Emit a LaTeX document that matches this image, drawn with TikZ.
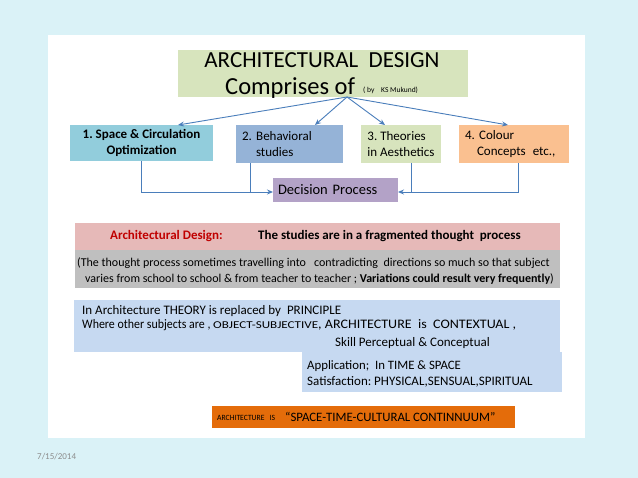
\documentclass[tikz,border=0pt]{standalone}
\usepackage{fontspec}
\setmainfont{Carlito}
\usetikzlibrary{arrows.meta,calc}
\definecolor{bgc}{HTML}{DAF2F7}
\definecolor{titlec}{HTML}{D7E4BD}
\definecolor{bonec}{HTML}{92CDDC}
\definecolor{btwoc}{HTML}{95B3D7}
\definecolor{bthreec}{HTML}{D7E4BD}
\definecolor{bfourc}{HTML}{FAC090}
\definecolor{dpc}{HTML}{B3A2C7}
\definecolor{redc}{HTML}{E6B9B8}
\definecolor{grayc}{HTML}{BFBFBF}
\definecolor{bluec}{HTML}{C6D9F1}
\definecolor{orc}{HTML}{E46C0A}
\definecolor{arrc}{HTML}{4A7EBB}
\definecolor{redt}{HTML}{C00000}
\definecolor{datec}{HTML}{8C8C8C}
\begin{document}
\frenchspacing
\begin{tikzpicture}[x=1pt,y=-1pt,
  box/.style={draw=none, inner sep=0pt, outer sep=0pt},
  arr/.style={draw=arrc, line width=0.9pt, -{Stealth[length=6pt,width=5pt]}},
  lin/.style={draw=arrc, line width=0.9pt},
  txt/.style={inner sep=0pt, anchor=base west},
  fa/.style={font=\fontsize{13}{16}\selectfont},
  fab/.style={font=\fontsize{13}{16}\selectfont\bfseries}
]
\fill[bgc] (0,0) rectangle (638,478);
\useasboundingbox (0,0) rectangle (638,478);
\fill[white] (48,35) rectangle (585,438);
% title
\node[box, fill=titlec, minimum width=290pt, minimum height=47pt] (title) at (323,73.5) {};
\node[txt, anchor=base, font=\fontsize{23}{25}\selectfont] (t1) at (322,68) {ARCHITECTURAL\ \ DESIGN};
\node[txt, font=\fontsize{24.5}{26}\selectfont] (t2) at (225,95) {Comprises of};
\node[txt, font=\fontsize{7.5}{8}\selectfont] (t3) at (363,93) {( by\ \ \ \ KS Mukund)};
\coordinate (o) at (347,97);
% four boxes
\node[box, fill=bonec, minimum width=143pt, minimum height=36pt, align=center, fab] (b1) at (141.5,143) {1. Space \& Circulation\\Optimization};
\node[box, fill=btwoc, minimum height=38pt, inner xsep=6pt, text width=95pt, align=left, fa] (b2) at (289.5,144) {2. Behavioral\\\hspace*{14pt}studies};
\node[box, fill=bthreec, minimum width=80pt, minimum height=38pt, align=left, fa] (b3) at (401,144) {3. Theories\\in Aesthetics};
\node[box, fill=bfourc, minimum height=38pt, inner xsep=6pt, text width=98pt, align=left, fa] (b4) at (514,144) {4. Colour\\\hspace*{12pt}Concepts\hspace{7pt}etc.,};
\node[box, fill=dpc, minimum height=24pt, inner xsep=5pt, text width=115pt, align=left, font=\fontsize{14.5}{16}\selectfont] (dp) at (335.5,190) {Decision Process};
% arrows
\draw[arr] (o) -- ($(b1.north west)+(108,0)$);
\draw[arr] (o) -- ($(b2.north west)+(79,0)$);
\draw[arr] (o) -- ($(b3.north west)+(24,0)$);
\draw[arr] (o) -- ($(b4.north west)+(49,0)$);
\draw[arr] (b1.south) |- ($(dp.west)+(0,2)$);
\draw[lin] ($(b2.south west)+(14,0)$) -- ++(0,29);
\draw[arr] ($(b3.south west)+(50,0)$) |- ($(dp.east)+(0,2)$);
\draw[lin] ($(b4.south west)+(59,0)$) |- ($(b3.south west)+(50,29)$);
% fragmented band
\fill[redc] (75,223) rectangle (560,250);
\fill[grayc] (75,250) rectangle (560,288);
\node[txt, text=redt, font=\fontsize{13}{15}\selectfont\bfseries] (ad) at (110,240) {Architectural Design:};
\node[txt, font=\fontsize{13}{15}\selectfont\bfseries] (fr) at (258,240) {The studies are in a fragmented thought\ \ process};
\node[txt, font=\fontsize{12}{14}\selectfont] (g1) at (77,267) {(The thought process sometimes travelling into\ \ \ contradicting\ \ directions so much so that subject};
\node[txt, font=\fontsize{12}{14}\selectfont] (g2) at (85,283) {varies from school to school \& from teacher to teacher ; \textbf{Variations could result very frequently})};
% theory band
\fill[bluec] (74,300) rectangle (560,352);
\fill[bluec] (302,352) rectangle (562,392);
\node[txt, font=\fontsize{13}{15}\selectfont] (l1) at (82,315) {In Architecture THEORY is replaced by\ \ PRINCIPLE};
\node[txt, font=\fontsize{13}{15}\selectfont] (l2) at (82,328.5) {\resizebox{131pt}{\height}{Where other subjects are ,\ }\resizebox{105pt}{\height}{\fontsize{10.5}{12}\selectfont OBJECT-SUBJECTIVE}\resizebox{198pt}{\height}{, ARCHITECTURE\ \ is\ \ CONTEXTUAL ,}};
\node[txt, font=\fontsize{13}{15}\selectfont] (l3) at (335,346.5) {Skill Perceptual\ \& Conceptual};
\node[txt, font=\fontsize{12.8}{15}\selectfont] (l4) at (307,369.5) {Application;\ \ In TIME \& SPACE};
\node[txt, font=\fontsize{13}{15}\selectfont] (l5) at (307,385.5) {Satisfaction: PHYSICAL,SENSUAL,SPIRITUAL};
% continuum
\fill[orc] (212,406) rectangle (515,428);
\node[txt, font=\fontsize{8}{9}\selectfont] (c1) at (217,421) {\resizebox{58pt}{\height}{ARCHITECTURE\ \ \ IS}};
\node[txt, font=\fontsize{12.8}{14}\selectfont] (c2) at (285,421.5) {“SPACE-TIME-CULTURAL CONTINNUUM”};
% date
\node[txt, text=datec, font=\fontsize{9}{10}\selectfont] (date) at (37,460) {7/15/2014};
\end{tikzpicture}
\end{document}
